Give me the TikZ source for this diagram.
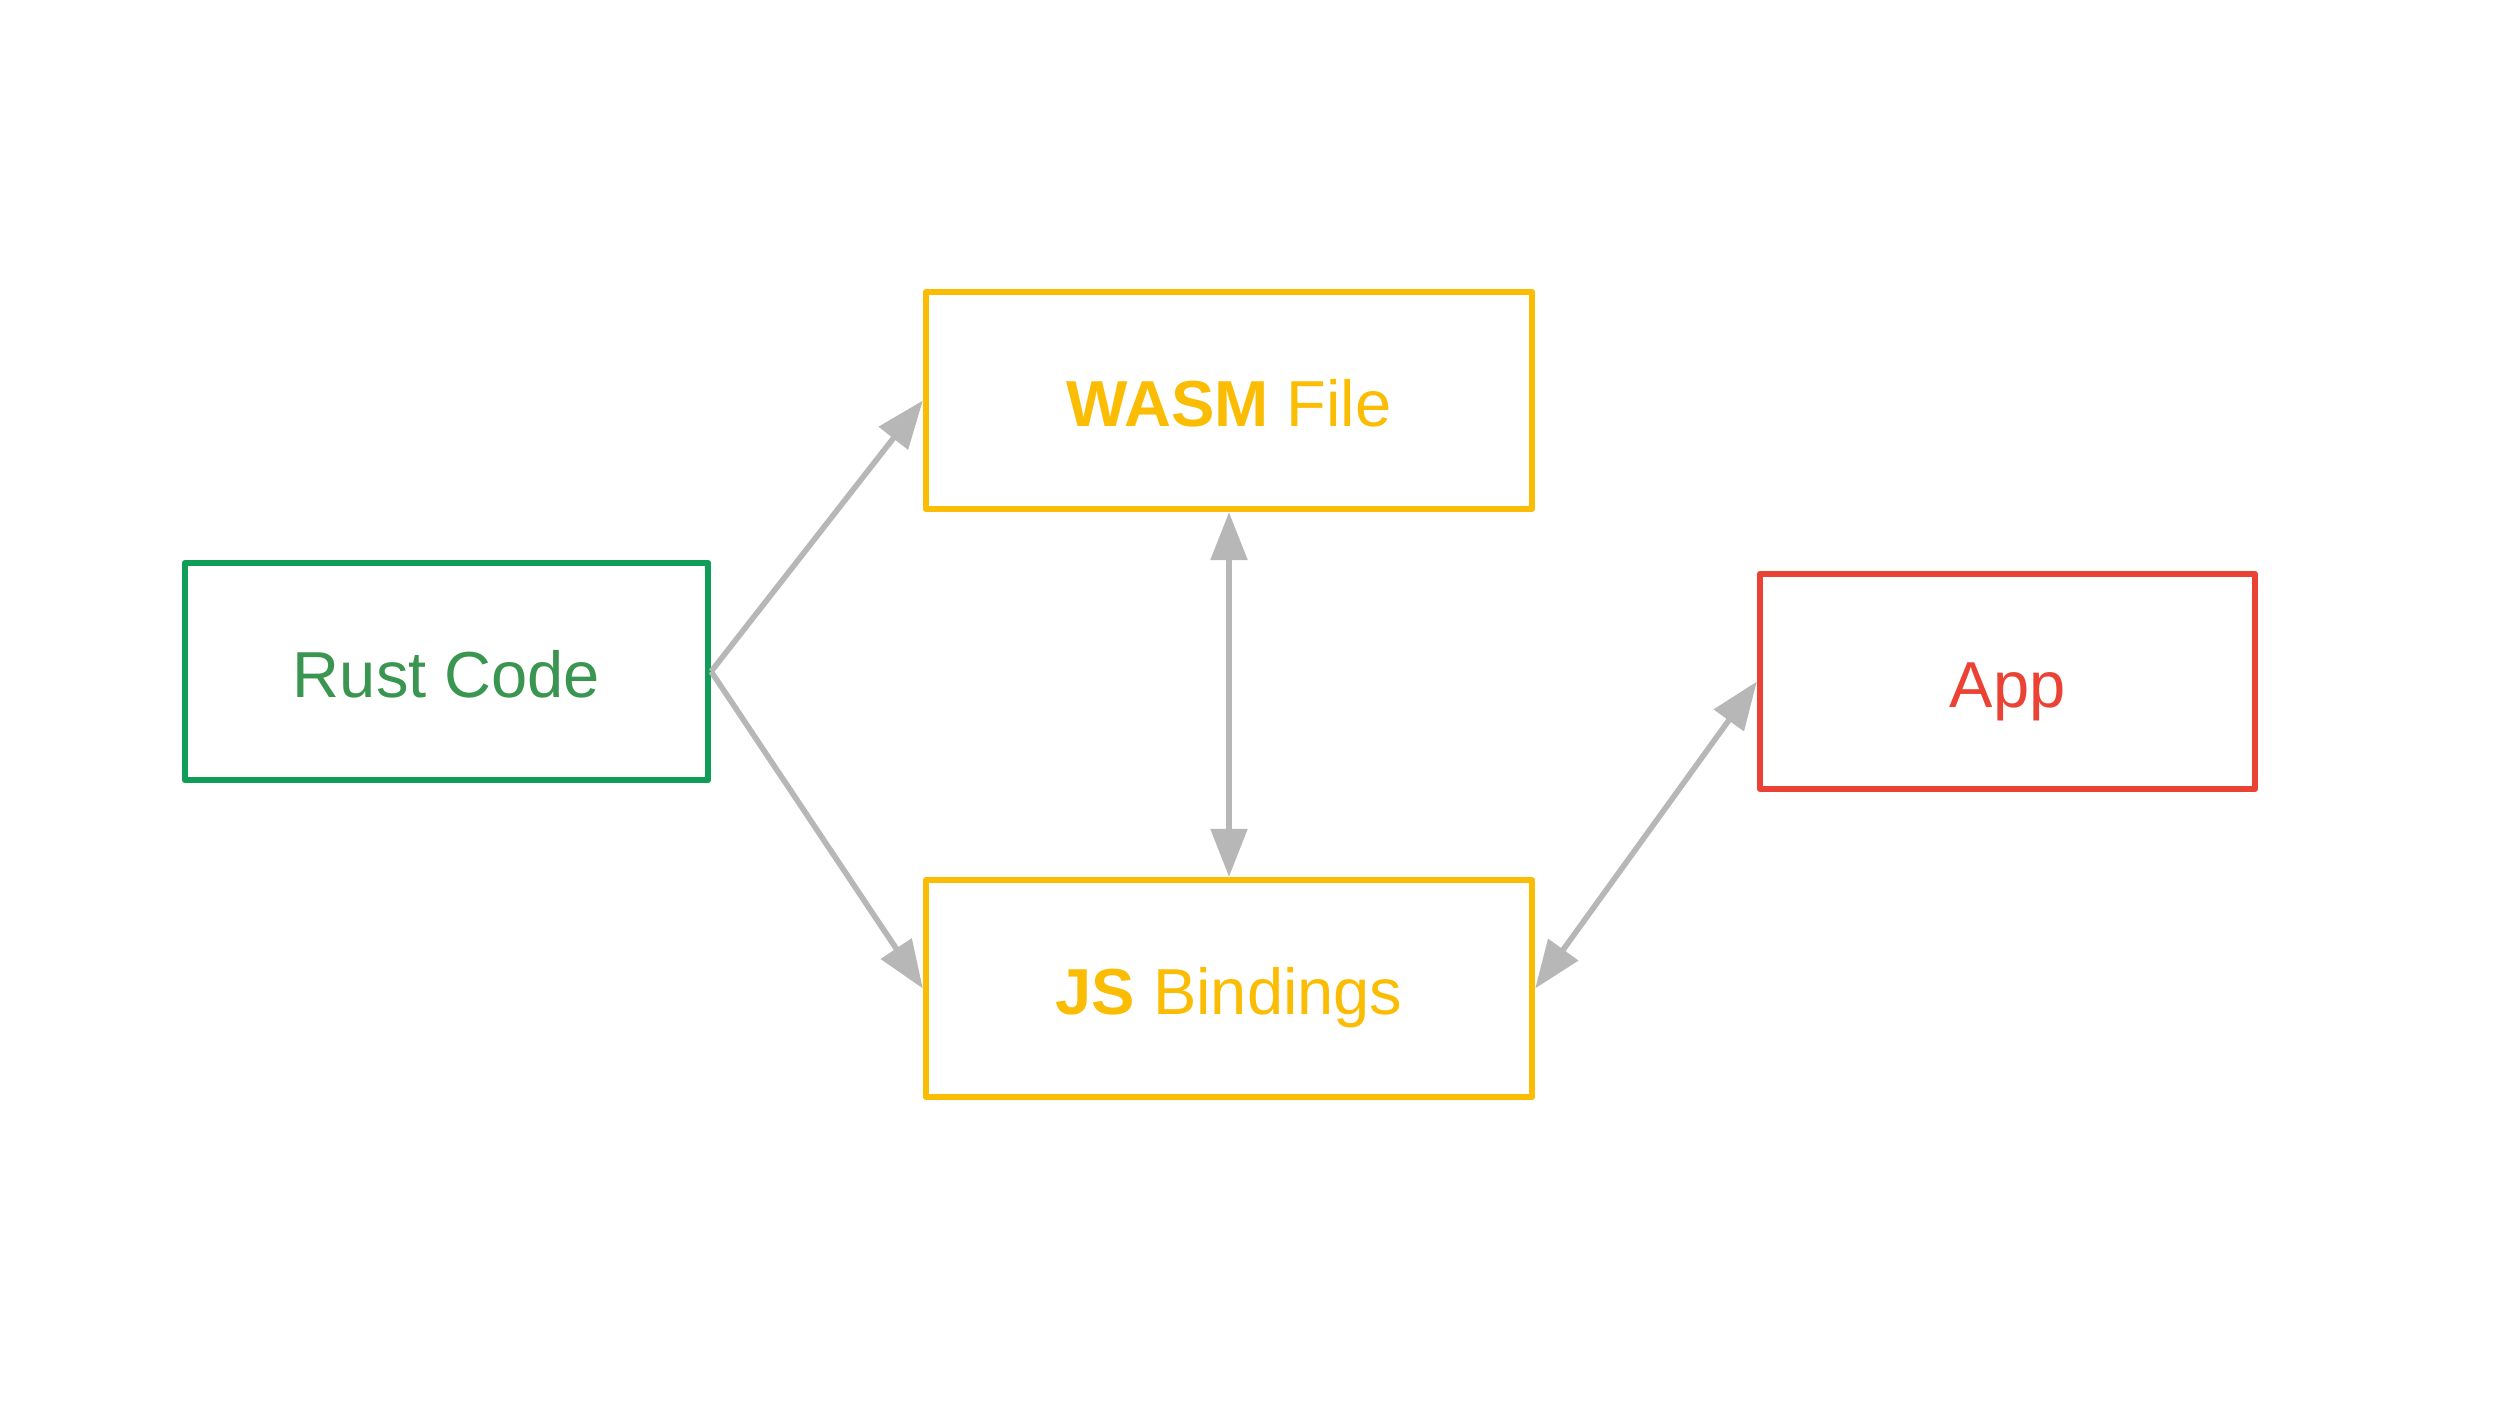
\documentclass[tikz,border=0pt]{standalone}
\usepackage{fontspec}
\setmainfont{Liberation Sans}
\usetikzlibrary{arrows.meta}

\begin{document}
\begin{tikzpicture}
    \definecolor{rustColour}{HTML}{0F9D58}
    \definecolor{rustText}{HTML}{3A9550}
    \definecolor{wasmColour}{HTML}{FBBC04}
    \definecolor{appColour}{HTML}{EA4335}
    \definecolor{arrowColour}{HTML}{B7B7B7}

    \tikzset{
        box/.style={draw, line width=1.8pt, line join=round, minimum height=2.17cm,
            text height=18pt, text depth=3.2pt, font=\fontsize{18.5}{22}\selectfont},
        link/.style={draw=arrowColour, line width=1.6pt, {Triangle[length=0.48cm,width=0.36cm]}-{Triangle[length=0.48cm,width=0.36cm]}},
        oneway/.style={link, -{Triangle[length=0.48cm,width=0.36cm]}}
    }

    \useasboundingbox (0,0) rectangle (25,14.06);

    % Draw boxes
    \node[box, draw=rustColour, text=rustText, minimum width=5.23cm] (rust) at (4.465,7.345) {Rust Code};
    \node[box, draw=wasmColour, text=wasmColour, minimum width=6.06cm] (wasm) at (12.29,10.055) {\textbf{WASM} File};
    \node[box, draw=wasmColour, text=wasmColour, minimum width=6.06cm] (js) at (12.29,4.175) {\textbf{JS} Bindings};
    \node[box, draw=appColour, text=appColour, minimum width=4.95cm, minimum height=2.15cm] (app) at (20.075,7.245) {App};

    % Draw connectors
    \draw[oneway] (rust.east) -- (wasm.west);
    \draw[oneway] (rust.east) -- (js.west);
    \draw[link] (wasm.south) -- (js.north);
    \draw[link] (js.east) -- (app.west);

\end{tikzpicture}
\end{document}
